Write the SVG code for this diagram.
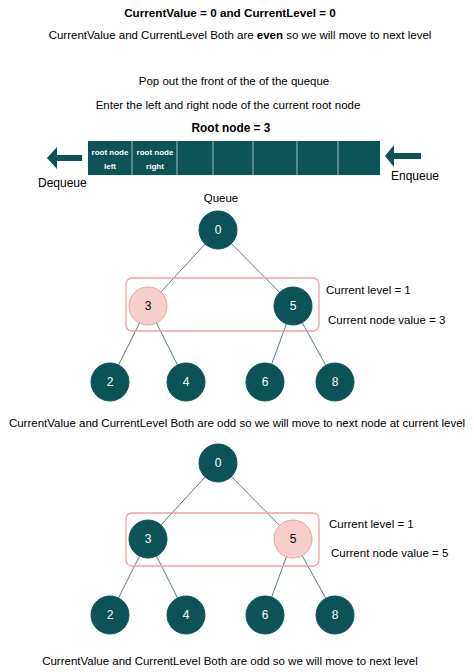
<svg xmlns="http://www.w3.org/2000/svg" width="474" height="672" viewBox="0 0 474 672">
<style>
text{font-family:"Liberation Sans",Arial,sans-serif;fill:#000}
.t{font-size:11.5px}
.b{font-weight:bold}
.c{text-anchor:middle}
.n circle{fill:#0b5357;stroke:#0b5357;stroke-width:1}
.n text{fill:#fff;font-size:12px;text-anchor:middle}
.h circle{fill:#f8cecc;stroke:#e8a0a0;stroke-width:1}
.h text{fill:#000;font-size:12px;text-anchor:middle}
.e line{stroke:#5b7a84;stroke-width:1}
.box{fill:none;stroke:#f2a0a4;stroke-width:1.3}
.q{fill:#0b5357}
.qd{stroke:#9cc4c4;stroke-width:1}
.qt{fill:#fff;font-size:8px;font-weight:bold;text-anchor:middle}
</style>

<g id="texts">
<text class="b c" x="230" y="17" font-size="11.7">CurrentValue = 0 and CurrentLevel = 0</text>
<text class="t c" x="240" y="39">CurrentValue and CurrentLevel Both are <tspan font-weight="bold">even</tspan> so we will move to next level</text>
<text class="t c" x="234" y="85">Pop out the front of the of the queque</text>
<text class="t c" x="228" y="109">Enter the left and right node of the current root node</text>
<text class="b c" x="231" y="132" font-size="11.9">Root node = 3</text>
<text class="t c" x="237" y="427">CurrentValue and CurrentLevel Both are odd so we will move to next node at current level</text>
<text class="t c" x="230" y="665">CurrentValue and CurrentLevel Both are odd so we will move to next level</text>
</g>

<g id="queue">
<rect class="q" x="88" y="141" width="292" height="34"/>
<line class="qd" x1="132" y1="141" x2="132" y2="175"/>
<line class="qd" x1="177" y1="141" x2="177" y2="175"/>
<line class="qd" x1="213" y1="141" x2="213" y2="175"/>
<line class="qd" x1="253" y1="141" x2="253" y2="175"/>
<line class="qd" x1="297" y1="141" x2="297" y2="175"/>
<line class="qd" x1="338" y1="141" x2="338" y2="175"/>
<text class="qt" x="110" y="155">root node</text>
<text class="qt" x="110" y="169">left</text>
<text class="qt" x="155" y="155">root node</text>
<text class="qt" x="155" y="169">right</text>
<text class="t c" x="221" y="202">Queue</text>
</g>

<g id="dequeue">
<polygon class="q" points="47,158 57,147 57,155 82,155 82,161 57,161 57,169"/>
<text x="38" y="187" font-size="12">Dequeue</text>
</g>
<g id="enqueue">
<polygon class="q" points="385,156 394,145 394,153 421,153 421,159 394,159 394,167"/>
<text x="391" y="180" font-size="12">Enqueue</text>
</g>

<g id="connectors1" class="e">
<line x1="218" y1="230" x2="148" y2="306"/>
<line x1="218" y1="230" x2="293" y2="306"/>
<line x1="148" y1="306" x2="110" y2="382"/>
<line x1="148" y1="306" x2="186" y2="382"/>
<line x1="293" y1="306" x2="265" y2="382"/>
<line x1="293" y1="306" x2="335" y2="382"/>
</g>
<rect id="level1" class="box" x="126" y="278" width="193" height="53" rx="6"/>
<g id="t1n0" class="n"><circle cx="218" cy="230" r="19"/><text x="218" y="234">0</text></g>
<g id="t1n3" class="h"><circle cx="148" cy="306" r="19"/><text x="148" y="310">3</text></g>
<g id="t1n5" class="n"><circle cx="293" cy="306" r="19"/><text x="293" y="310">5</text></g>
<g id="t1n2" class="n"><circle cx="110" cy="382" r="19"/><text x="110" y="386">2</text></g>
<g id="t1n4" class="n"><circle cx="186" cy="382" r="19"/><text x="186" y="386">4</text></g>
<g id="t1n6" class="n"><circle cx="265" cy="382" r="19"/><text x="265" y="386">6</text></g>
<g id="t1n8" class="n"><circle cx="335" cy="382" r="19"/><text x="335" y="386">8</text></g>
<g id="label1">
<text class="t" x="326" y="294">Current level = 1</text>
<text class="t" x="328" y="324">Current node value = 3</text>
</g>

<g id="connectors2" class="e">
<line x1="218" y1="463" x2="148" y2="539"/>
<line x1="218" y1="463" x2="293" y2="539"/>
<line x1="148" y1="539" x2="110" y2="615"/>
<line x1="148" y1="539" x2="186" y2="615"/>
<line x1="293" y1="539" x2="265" y2="615"/>
<line x1="293" y1="539" x2="335" y2="615"/>
</g>
<rect id="level2" class="box" x="126" y="513" width="193" height="53" rx="6"/>
<g id="t2n0" class="n"><circle cx="218" cy="463" r="19"/><text x="218" y="467">0</text></g>
<g id="t2n3" class="n"><circle cx="148" cy="539" r="19"/><text x="148" y="543">3</text></g>
<g id="t2n5" class="h"><circle cx="293" cy="539" r="19"/><text x="293" y="543">5</text></g>
<g id="t2n2" class="n"><circle cx="110" cy="615" r="19"/><text x="110" y="619">2</text></g>
<g id="t2n4" class="n"><circle cx="186" cy="615" r="19"/><text x="186" y="619">4</text></g>
<g id="t2n6" class="n"><circle cx="265" cy="615" r="19"/><text x="265" y="619">6</text></g>
<g id="t2n8" class="n"><circle cx="335" cy="615" r="19"/><text x="335" y="619">8</text></g>
<g id="label2">
<text class="t" x="329" y="528">Current level = 1</text>
<text class="t" x="331" y="557">Current node value = 5</text>
</g>
</svg>
